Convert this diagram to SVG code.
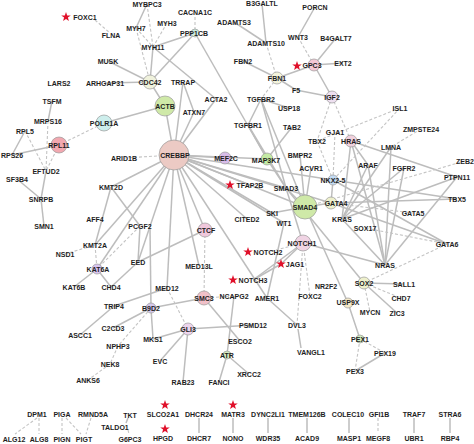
<svg xmlns="http://www.w3.org/2000/svg" xmlns:xlink="http://www.w3.org/1999/xlink" width="474" height="444" viewBox="0 0 474 444">
<style>
.s{stroke:#bdbdbd;stroke-width:1.5;fill:none}
.d{stroke:#c4c4c4;stroke-width:1.1;stroke-dasharray:3 2;fill:none}
.t{font-family:"Liberation Sans",Arial,sans-serif;font-size:7px;font-weight:bold;fill:#1e1e1e;text-anchor:middle}
.c{stroke:#9a9a9a;stroke-width:0.7}
.st{fill:#e0102a}
</style>
<defs>
<path id="star" d="M0,-5 L1.18,-1.62 L4.76,-1.55 L1.9,0.62 L2.94,4.05 L0,2 L-2.94,4.05 L-1.9,0.62 L-4.76,-1.55 L-1.18,-1.62Z"/>
</defs>
<rect width="474" height="444" fill="#fff"/>
<g id="connectors">
<line class="s" x1="147" y1="4" x2="136" y2="28"/>
<line class="s" x1="153" y1="47" x2="150" y2="82"/>
<line class="s" x1="195" y1="33" x2="150" y2="82"/>
<line class="s" x1="195" y1="33" x2="153" y2="47"/>
<line class="s" x1="195" y1="33" x2="267" y2="159"/>
<line class="s" x1="108" y1="61" x2="150" y2="82"/>
<line class="s" x1="105" y1="83" x2="150" y2="82"/>
<line class="s" x1="150" y1="82" x2="165" y2="106"/>
<line class="s" x1="153" y1="47" x2="216" y2="99"/>
<line class="s" x1="262" y1="4" x2="266" y2="43"/>
<line class="s" x1="234" y1="22" x2="266" y2="43"/>
<line class="s" x1="243" y1="61" x2="277" y2="78"/>
<line class="s" x1="277" y1="78" x2="296" y2="90"/>
<line class="s" x1="277" y1="78" x2="314" y2="65"/>
<line class="s" x1="298" y1="37" x2="315" y2="7"/>
<line class="s" x1="314" y1="65" x2="336" y2="38"/>
<line class="s" x1="314" y1="65" x2="343" y2="63"/>
<line class="s" x1="314" y1="65" x2="332" y2="97"/>
<line class="s" x1="296" y1="90" x2="332" y2="97"/>
<line class="s" x1="261" y1="99" x2="248" y2="125"/>
<line class="s" x1="261" y1="99" x2="286" y2="188"/>
<line class="s" x1="261" y1="99" x2="305" y2="207"/>
<line class="s" x1="261" y1="99" x2="289" y2="108"/>
<line class="s" x1="183" y1="82" x2="174" y2="155"/>
<line class="s" x1="183" y1="82" x2="194" y2="112"/>
<line class="s" x1="194" y1="112" x2="174" y2="155"/>
<line class="s" x1="165" y1="106" x2="174" y2="155"/>
<line class="s" x1="216" y1="99" x2="174" y2="155"/>
<line class="s" x1="104" y1="123" x2="165" y2="106"/>
<line class="s" x1="52" y1="101" x2="48" y2="121"/>
<line class="s" x1="25" y1="131" x2="12" y2="155"/>
<line class="s" x1="12" y1="155" x2="59" y2="145"/>
<line class="s" x1="46" y1="171" x2="41" y2="199"/>
<line class="s" x1="17" y1="179" x2="41" y2="199"/>
<line class="s" x1="41" y1="199" x2="44" y2="226"/>
<line class="s" x1="248" y1="125" x2="267" y2="159"/>
<line class="s" x1="248" y1="125" x2="286" y2="188"/>
<line class="s" x1="292" y1="127" x2="267" y2="159"/>
<line class="s" x1="300" y1="155" x2="305" y2="207"/>
<line class="s" x1="311" y1="168" x2="305" y2="207"/>
<line class="s" x1="267" y1="159" x2="286" y2="188"/>
<line class="s" x1="174" y1="155" x2="225" y2="158"/>
<line class="s" x1="174" y1="155" x2="267" y2="159"/>
<line class="s" x1="174" y1="155" x2="286" y2="188"/>
<line class="s" x1="174" y1="155" x2="305" y2="207"/>
<line class="s" x1="174" y1="155" x2="250" y2="185"/>
<line class="s" x1="174" y1="155" x2="247" y2="219"/>
<line class="s" x1="174" y1="155" x2="331" y2="203"/>
<line class="s" x1="174" y1="155" x2="333" y2="180"/>
<line class="s" x1="174" y1="155" x2="272" y2="213"/>
<line class="s" x1="174" y1="155" x2="205" y2="230"/>
<line class="s" x1="174" y1="155" x2="167" y2="288"/>
<line class="s" x1="174" y1="155" x2="199" y2="266"/>
<line class="s" x1="174" y1="155" x2="111" y2="187"/>
<line class="s" x1="174" y1="155" x2="95" y2="245"/>
<line class="s" x1="174" y1="155" x2="97" y2="269"/>
<line class="s" x1="174" y1="155" x2="138" y2="262"/>
<line class="s" x1="174" y1="155" x2="284" y2="223"/>
<line class="s" x1="174" y1="155" x2="267" y2="298"/>
<line class="s" x1="305" y1="207" x2="272" y2="213"/>
<line class="s" x1="305" y1="207" x2="331" y2="203"/>
<line class="s" x1="286" y1="188" x2="305" y2="207"/>
<line class="s" x1="305" y1="207" x2="348" y2="303"/>
<line class="s" x1="348" y1="303" x2="360" y2="339"/>
<line class="s" x1="351" y1="141" x2="368" y2="165"/>
<line class="s" x1="351" y1="141" x2="342" y2="219"/>
<line class="s" x1="351" y1="141" x2="385" y2="265"/>
<line class="s" x1="351" y1="141" x2="457" y2="177"/>
<line class="s" x1="391" y1="147" x2="342" y2="219"/>
<line class="s" x1="391" y1="147" x2="385" y2="265"/>
<line class="s" x1="368" y1="165" x2="385" y2="265"/>
<line class="s" x1="368" y1="165" x2="342" y2="219"/>
<line class="s" x1="404" y1="168" x2="385" y2="265"/>
<line class="s" x1="404" y1="168" x2="342" y2="219"/>
<line class="s" x1="457" y1="177" x2="342" y2="219"/>
<line class="s" x1="457" y1="177" x2="385" y2="265"/>
<line class="s" x1="333" y1="180" x2="457" y2="199"/>
<line class="s" x1="333" y1="180" x2="331" y2="203"/>
<line class="s" x1="333" y1="180" x2="447" y2="244"/>
<line class="s" x1="331" y1="203" x2="457" y2="199"/>
<line class="s" x1="331" y1="203" x2="447" y2="244"/>
<line class="s" x1="342" y1="219" x2="385" y2="265"/>
<line class="s" x1="303" y1="243" x2="281" y2="264"/>
<line class="s" x1="303" y1="243" x2="253" y2="280"/>
<line class="s" x1="281" y1="264" x2="253" y2="280"/>
<line class="s" x1="303" y1="243" x2="286" y2="188"/>
<line class="s" x1="303" y1="243" x2="385" y2="265"/>
<line class="s" x1="364" y1="283" x2="404" y2="284"/>
<line class="s" x1="364" y1="283" x2="397" y2="313"/>
<line class="s" x1="286" y1="188" x2="364" y2="283"/>
<line class="s" x1="284" y1="223" x2="267" y2="298"/>
<line class="s" x1="267" y1="298" x2="297" y2="325"/>
<line class="s" x1="298" y1="329" x2="301" y2="348"/>
<line class="s" x1="253" y1="325" x2="188" y2="329"/>
<line class="s" x1="204" y1="298" x2="240" y2="341"/>
<line class="s" x1="204" y1="298" x2="151" y2="308"/>
<line class="s" x1="205" y1="230" x2="138" y2="262"/>
<line class="s" x1="188" y1="329" x2="153" y2="339"/>
<line class="s" x1="188" y1="329" x2="160" y2="361"/>
<line class="s" x1="188" y1="329" x2="183" y2="382"/>
<line class="s" x1="151" y1="308" x2="153" y2="339"/>
<line class="s" x1="151" y1="308" x2="113" y2="328"/>
<line class="s" x1="114" y1="306" x2="80" y2="335"/>
<line class="s" x1="114" y1="306" x2="167" y2="288"/>
<line class="s" x1="227" y1="355" x2="219" y2="382"/>
<line class="s" x1="227" y1="355" x2="249" y2="374"/>
<line class="s" x1="227" y1="355" x2="234" y2="296"/>
<line class="s" x1="355" y1="371" x2="385" y2="353"/>
<line class="s" x1="111" y1="187" x2="95" y2="245"/>
<line class="s" x1="111" y1="187" x2="140" y2="226"/>
<line class="s" x1="140" y1="226" x2="138" y2="262"/>
<line class="s" x1="138" y1="262" x2="111" y2="287"/>
<line class="s" x1="97" y1="269" x2="74" y2="287"/>
<line class="s" x1="97" y1="269" x2="111" y2="287"/>
<line class="s" x1="150" y1="228" x2="151" y2="308"/>
<line class="d" x1="95" y1="20" x2="110" y2="33"/>
<line class="d" x1="147" y1="4" x2="153" y2="47"/>
<line class="d" x1="136" y1="28" x2="153" y2="47"/>
<line class="d" x1="167" y1="23" x2="153" y2="47"/>
<line class="d" x1="136" y1="28" x2="150" y2="82"/>
<line class="d" x1="195" y1="12" x2="195" y2="33"/>
<line class="d" x1="266" y1="43" x2="277" y2="78"/>
<line class="d" x1="298" y1="37" x2="314" y2="65"/>
<line class="d" x1="277" y1="78" x2="261" y2="99"/>
<line class="d" x1="332" y1="97" x2="317" y2="141"/>
<line class="d" x1="332" y1="97" x2="351" y2="141"/>
<line class="d" x1="400" y1="108" x2="317" y2="141"/>
<line class="d" x1="400" y1="108" x2="333" y2="180"/>
<line class="d" x1="421" y1="129" x2="391" y2="147"/>
<line class="d" x1="465" y1="161" x2="305" y2="207"/>
<line class="d" x1="335" y1="132" x2="333" y2="180"/>
<line class="d" x1="317" y1="141" x2="333" y2="180"/>
<line class="d" x1="25" y1="131" x2="46" y2="171"/>
<line class="d" x1="48" y1="121" x2="46" y2="171"/>
<line class="d" x1="59" y1="145" x2="46" y2="171"/>
<line class="d" x1="59" y1="145" x2="104" y2="123"/>
<line class="d" x1="124" y1="158" x2="174" y2="155"/>
<line class="d" x1="95" y1="245" x2="97" y2="269"/>
<line class="d" x1="65" y1="254" x2="95" y2="245"/>
<line class="d" x1="140" y1="226" x2="97" y2="269"/>
<line class="d" x1="205" y1="230" x2="204" y2="298"/>
<line class="d" x1="167" y1="288" x2="188" y2="329"/>
<line class="d" x1="447" y1="244" x2="364" y2="283"/>
<line class="d" x1="447" y1="244" x2="365" y2="228"/>
<line class="d" x1="364" y1="283" x2="401" y2="298"/>
<line class="d" x1="364" y1="283" x2="370" y2="312"/>
<line class="d" x1="303" y1="243" x2="297" y2="325"/>
<line class="d" x1="303" y1="243" x2="310" y2="296"/>
<line class="d" x1="303" y1="243" x2="268" y2="252"/>
<line class="d" x1="118" y1="346" x2="110" y2="364"/>
<line class="d" x1="110" y1="364" x2="88" y2="380"/>
<line class="d" x1="151" y1="308" x2="118" y2="346"/>
<line class="d" x1="360" y1="339" x2="385" y2="353"/>
<line class="d" x1="360" y1="339" x2="355" y2="371"/>
<line class="d" x1="234" y1="296" x2="204" y2="298"/>
<line class="d" x1="413" y1="213" x2="331" y2="203"/>
<line class="d" x1="37" y1="418" x2="15" y2="434"/>
<line class="d" x1="39" y1="418" x2="39" y2="434"/>
<line class="d" x1="62" y1="418" x2="62" y2="434"/>
<line class="d" x1="66" y1="418" x2="81" y2="434"/>
<line class="d" x1="91" y1="418" x2="86" y2="434"/>
<line class="s" x1="128" y1="418" x2="126" y2="423"/>
<line class="d" x1="128" y1="430" x2="129" y2="434"/>
<line class="s" x1="199" y1="418" x2="199" y2="433"/>
<line class="s" x1="233" y1="418" x2="233" y2="433"/>
<line class="s" x1="268" y1="418" x2="268" y2="433"/>
<line class="s" x1="307" y1="418" x2="307" y2="433"/>
<line class="s" x1="349" y1="418" x2="349" y2="433"/>
<line class="d" x1="378" y1="418" x2="378" y2="433"/>
<line class="s" x1="414" y1="418" x2="414" y2="433"/>
<line class="s" x1="450" y1="418" x2="450" y2="433"/>
</g>
<g id="n-FOXC1"><use href="#star" class="st" x="66" y="17"/><text class="t" x="85" y="19.5">FOXC1</text></g>
<g id="n-MYBPC3"><text class="t" x="147" y="6.5">MYBPC3</text></g>
<g id="n-CACNA1C"><text class="t" x="195" y="14.5">CACNA1C</text></g>
<g id="n-B3GALTL"><text class="t" x="262" y="6">B3GALTL</text></g>
<g id="n-PORCN"><text class="t" x="315" y="9.5">PORCN</text></g>
<g id="n-MYH7"><text class="t" x="136" y="30.5">MYH7</text></g>
<g id="n-MYH3"><text class="t" x="167" y="25.5">MYH3</text></g>
<g id="n-ADAMTS3"><text class="t" x="234" y="24.5">ADAMTS3</text></g>
<g id="n-FLNA"><text class="t" x="111" y="37.5">FLNA</text></g>
<g id="n-PPP1CB"><circle class="c" cx="195" cy="33" r="4" fill="#cdeee0"/><text class="t" x="194" y="35.5">PPP1CB</text></g>
<g id="n-WNT3"><text class="t" x="298" y="39.5">WNT3</text></g>
<g id="n-B4GALT7"><text class="t" x="336" y="40.5">B4GALT7</text></g>
<g id="n-ADAMTS10"><text class="t" x="266" y="45.5">ADAMTS10</text></g>
<g id="n-MYH11"><text class="t" x="153" y="49.5">MYH11</text></g>
<g id="n-EXT2"><text class="t" x="343" y="65.5">EXT2</text></g>
<g id="n-MUSK"><text class="t" x="108" y="63.5">MUSK</text></g>
<g id="n-FBN2"><text class="t" x="243" y="63.5">FBN2</text></g>
<g id="n-GPC3"><circle class="c" cx="314" cy="65" r="6" fill="#f4c8d4"/><use href="#star" class="st" x="297" y="66"/><text class="t" x="312" y="67.5">GPC3</text></g>
<g id="n-FBN1"><circle class="c" cx="277" cy="78" r="6" fill="#f4f4dc"/><text class="t" x="277" y="80.5">FBN1</text></g>
<g id="n-F5"><text class="t" x="296" y="92.5">F5</text></g>
<g id="n-ARHGAP31"><text class="t" x="105" y="85.5">ARHGAP31</text></g>
<g id="n-LARS2"><text class="t" x="59" y="85.5">LARS2</text></g>
<g id="n-CDC42"><circle class="c" cx="150" cy="82" r="7" fill="#f0f2dc"/><text class="t" x="150" y="84.5">CDC42</text></g>
<g id="n-TRRAP"><text class="t" x="183" y="84.5">TRRAP</text></g>
<g id="n-IGF2"><circle class="c" cx="332" cy="97" r="6" fill="#eee0f0"/><text class="t" x="332" y="99.5">IGF2</text></g>
<g id="n-TSFM"><text class="t" x="52" y="103.5">TSFM</text></g>
<g id="n-ACTA2"><text class="t" x="216" y="101.5">ACTA2</text></g>
<g id="n-TGFBR2"><text class="t" x="261" y="101.5">TGFBR2</text></g>
<g id="n-ACTB"><circle class="c" cx="165" cy="106" r="10" fill="#cfe9a8"/><text class="t" x="165" y="108.5">ACTB</text></g>
<g id="n-USP18"><text class="t" x="289" y="110.5">USP18</text></g>
<g id="n-ATXN7"><text class="t" x="194" y="114.5">ATXN7</text></g>
<g id="n-ISL1"><text class="t" x="400" y="110.5">ISL1</text></g>
<g id="n-MRPS16"><text class="t" x="48" y="123.5">MRPS16</text></g>
<g id="n-POLR1A"><circle class="c" cx="104" cy="123" r="8" fill="#cdeeec"/><text class="t" x="104" y="125.5">POLR1A</text></g>
<g id="n-RPL5"><text class="t" x="25" y="133.5">RPL5</text></g>
<g id="n-RPL11"><circle class="c" cx="59" cy="145" r="8" fill="#f2a8b0"/><text class="t" x="59" y="147.5">RPL11</text></g>
<g id="n-TGFBR1"><text class="t" x="248" y="127.5">TGFBR1</text></g>
<g id="n-TAB2"><text class="t" x="292" y="129.5">TAB2</text></g>
<g id="n-GJA1"><text class="t" x="335" y="134.5">GJA1</text></g>
<g id="n-TBX2"><text class="t" x="317" y="143.5">TBX2</text></g>
<g id="n-HRAS"><circle class="c" cx="351" cy="141" r="6" fill="#f0d0dc"/><text class="t" x="351" y="143.5">HRAS</text></g>
<g id="n-ZMPSTE24"><text class="t" x="421" y="131.5">ZMPSTE24</text></g>
<g id="n-LMNA"><text class="t" x="391" y="149.5">LMNA</text></g>
<g id="n-RPS26"><text class="t" x="12" y="157.5">RPS26</text></g>
<g id="n-ARID1B"><text class="t" x="124" y="160.5">ARID1B</text></g>
<g id="n-CREBBP"><circle class="c" cx="174" cy="155" r="15" fill="#eccac4"/><text class="t" x="175" y="157.5">CREBBP</text></g>
<g id="n-MEF2C"><circle class="c" cx="225" cy="158" r="6" fill="#d8bce8"/><text class="t" x="226" y="160.5">MEF2C</text></g>
<g id="n-MAP3K7"><circle class="c" cx="267" cy="159" r="6" fill="#c4eaa4"/><text class="t" x="266" y="162.5">MAP3K7</text></g>
<g id="n-BMPR2"><text class="t" x="300" y="157.5">BMPR2</text></g>
<g id="n-EFTUD2"><text class="t" x="46" y="173.5">EFTUD2</text></g>
<g id="n-ZEB2"><text class="t" x="465" y="163.5">ZEB2</text></g>
<g id="n-SF3B4"><text class="t" x="17" y="181.5">SF3B4</text></g>
<g id="n-ARAF"><text class="t" x="368" y="167.5">ARAF</text></g>
<g id="n-ACVR1"><text class="t" x="311" y="170.5">ACVR1</text></g>
<g id="n-FGFR2"><text class="t" x="404" y="170.5">FGFR2</text></g>
<g id="n-PTPN11"><text class="t" x="457" y="179.5">PTPN11</text></g>
<g id="n-NKX2-5"><circle class="c" cx="333" cy="180" r="5" fill="#c4dcf4"/><text class="t" x="333" y="182.5">NKX2-5</text></g>
<g id="n-KMT2D"><text class="t" x="111" y="189.5">KMT2D</text></g>
<g id="n-TFAP2B"><use href="#star" class="st" x="230" y="185"/><text class="t" x="250" y="187.5">TFAP2B</text></g>
<g id="n-SMAD3"><text class="t" x="286" y="190.5">SMAD3</text></g>
<g id="n-SNRPB"><text class="t" x="41" y="201.5">SNRPB</text></g>
<g id="n-TBX5"><text class="t" x="457" y="201.5">TBX5</text></g>
<g id="n-SMAD4"><circle class="c" cx="305" cy="207" r="12" fill="#cfe9a8"/><text class="t" x="305" y="209.5">SMAD4</text></g>
<g id="n-GATA4"><circle class="c" cx="331" cy="203" r="6" fill="#eef0cc"/><text class="t" x="336" y="205.5">GATA4</text></g>
<g id="n-GATA5"><text class="t" x="413" y="215.5">GATA5</text></g>
<g id="n-SKI"><text class="t" x="272" y="215.5">SKI</text></g>
<g id="n-AFF4"><text class="t" x="95" y="221.5">AFF4</text></g>
<g id="n-CITED2"><text class="t" x="247" y="221.5">CITED2</text></g>
<g id="n-KRAS"><text class="t" x="342" y="221.5">KRAS</text></g>
<g id="n-WT1"><text class="t" x="284" y="225.5">WT1</text></g>
<g id="n-SMN1"><text class="t" x="44" y="228.5">SMN1</text></g>
<g id="n-PCGF2"><text class="t" x="140" y="228.5">PCGF2</text></g>
<g id="n-SOX17"><text class="t" x="365" y="230.5">SOX17</text></g>
<g id="n-CTCF"><circle class="c" cx="205" cy="230" r="7" fill="#f0c8dc"/><text class="t" x="206" y="232.5">CTCF</text></g>
<g id="n-NOTCH1"><circle class="c" cx="303" cy="243" r="8" fill="#f0d4e4"/><text class="t" x="302" y="245.5">NOTCH1</text></g>
<g id="n-GATA6"><text class="t" x="447" y="246.5">GATA6</text></g>
<g id="n-KMT2A"><text class="t" x="95" y="247.5">KMT2A</text></g>
<g id="n-NOTCH2"><use href="#star" class="st" x="248" y="252"/><text class="t" x="268" y="254.5">NOTCH2</text></g>
<g id="n-NSD1"><text class="t" x="65" y="256.5">NSD1</text></g>
<g id="n-EED"><text class="t" x="138" y="264.5">EED</text></g>
<g id="n-JAG1"><use href="#star" class="st" x="281" y="264"/><text class="t" x="295" y="266.5">JAG1</text></g>
<g id="n-NRAS"><text class="t" x="385" y="267.5">NRAS</text></g>
<g id="n-MED13L"><text class="t" x="199" y="268.5">MED13L</text></g>
<g id="n-KAT6A"><circle class="c" cx="97" cy="269" r="5" fill="#d8c4f0"/><text class="t" x="98" y="271.5">KAT6A</text></g>
<g id="n-NOTCH3"><use href="#star" class="st" x="233" y="280"/><text class="t" x="253" y="282.5">NOTCH3</text></g>
<g id="n-NR2F2"><text class="t" x="326" y="288.5">NR2F2</text></g>
<g id="n-SOX2"><circle class="c" cx="364" cy="283" r="6" fill="#eef0cc"/><text class="t" x="364" y="285.5">SOX2</text></g>
<g id="n-SALL1"><text class="t" x="404" y="286.5">SALL1</text></g>
<g id="n-KAT6B"><text class="t" x="74" y="289.5">KAT6B</text></g>
<g id="n-CHD4"><text class="t" x="111" y="289.5">CHD4</text></g>
<g id="n-MED12"><text class="t" x="167" y="290.5">MED12</text></g>
<g id="n-FOXC2"><text class="t" x="310" y="298.5">FOXC2</text></g>
<g id="n-NCAPG2"><text class="t" x="234" y="298.5">NCAPG2</text></g>
<g id="n-SMC3"><circle class="c" cx="204" cy="298" r="7" fill="#f0c0c8"/><text class="t" x="204" y="300.5">SMC3</text></g>
<g id="n-AMER1"><text class="t" x="267" y="300.5">AMER1</text></g>
<g id="n-CHD7"><text class="t" x="401" y="300.5">CHD7</text></g>
<g id="n-USP9X"><circle class="c" cx="348" cy="303" r="5" fill="#f4e8c8"/><text class="t" x="348" y="304.5">USP9X</text></g>
<g id="n-TRIP4"><text class="t" x="114" y="308.5">TRIP4</text></g>
<g id="n-B9D2"><circle class="c" cx="151" cy="308" r="5" fill="#d4c8ec"/><text class="t" x="151" y="310.5">B9D2</text></g>
<g id="n-MYCN"><text class="t" x="370" y="314.5">MYCN</text></g>
<g id="n-ZIC3"><text class="t" x="397" y="315.5">ZIC3</text></g>
<g id="n-PSMD12"><text class="t" x="253" y="327.5">PSMD12</text></g>
<g id="n-DVL3"><text class="t" x="297" y="327.5">DVL3</text></g>
<g id="n-C2CD3"><text class="t" x="113" y="330.5">C2CD3</text></g>
<g id="n-GLI3"><circle class="c" cx="188" cy="329" r="6" fill="#ecd4ec"/><text class="t" x="188" y="331.5">GLI3</text></g>
<g id="n-ASCC1"><text class="t" x="80" y="337.5">ASCC1</text></g>
<g id="n-MKS1"><text class="t" x="153" y="341.5">MKS1</text></g>
<g id="n-PEX1"><circle class="c" cx="360" cy="339" r="4" fill="#d4ecc0"/><text class="t" x="360" y="341.5">PEX1</text></g>
<g id="n-ESCO2"><text class="t" x="240" y="343.5">ESCO2</text></g>
<g id="n-NPHP3"><text class="t" x="118" y="348.5">NPHP3</text></g>
<g id="n-VANGL1"><text class="t" x="311" y="354.5">VANGL1</text></g>
<g id="n-PEX19"><text class="t" x="385" y="355.5">PEX19</text></g>
<g id="n-ATR"><circle class="c" cx="227" cy="355" r="4" fill="#d4ecc0"/><text class="t" x="227" y="357.5">ATR</text></g>
<g id="n-EVC"><text class="t" x="160" y="363.5">EVC</text></g>
<g id="n-NEK8"><text class="t" x="110" y="366.5">NEK8</text></g>
<g id="n-PEX3"><text class="t" x="355" y="373.5">PEX3</text></g>
<g id="n-XRCC2"><text class="t" x="249" y="376.5">XRCC2</text></g>
<g id="n-ANKS6"><text class="t" x="88" y="382.5">ANKS6</text></g>
<g id="n-RAB23"><text class="t" x="183" y="384.5">RAB23</text></g>
<g id="n-FANCI"><text class="t" x="219" y="384.5">FANCI</text></g>
<g id="n-DPM1"><text class="t" x="37" y="416.5">DPM1</text></g>
<g id="n-PIGA"><text class="t" x="62" y="416.5">PIGA</text></g>
<g id="n-RMND5A"><text class="t" x="93" y="416.5">RMND5A</text></g>
<g id="n-TKT"><text class="t" x="130" y="417.5">TKT</text></g>
<g id="n-TALDO1"><text class="t" x="115" y="429.5">TALDO1</text></g>
<g id="n-SLCO2A1"><use href="#star" class="st" x="165" y="405"/><text class="t" x="163" y="416.5">SLCO2A1</text></g>
<g id="n-DHCR24"><text class="t" x="199" y="416.5">DHCR24</text></g>
<g id="n-MATR3"><use href="#star" class="st" x="233" y="405"/><text class="t" x="233" y="416.5">MATR3</text></g>
<g id="n-DYNC2LI1"><text class="t" x="268" y="416.5">DYNC2LI1</text></g>
<g id="n-TMEM126B"><text class="t" x="307" y="416.5">TMEM126B</text></g>
<g id="n-COLEC10"><text class="t" x="348" y="416.5">COLEC10</text></g>
<g id="n-GFI1B"><text class="t" x="379" y="416.5">GFI1B</text></g>
<g id="n-TRAF7"><text class="t" x="414" y="416.5">TRAF7</text></g>
<g id="n-STRA6"><text class="t" x="450" y="416.5">STRA6</text></g>
<g id="n-ALG12"><text class="t" x="14" y="441.5">ALG12</text></g>
<g id="n-ALG8"><text class="t" x="39" y="441.5">ALG8</text></g>
<g id="n-PIGN"><text class="t" x="62" y="441.5">PIGN</text></g>
<g id="n-PIGT"><text class="t" x="84" y="441.5">PIGT</text></g>
<g id="n-G6PC3"><text class="t" x="130" y="441.5">G6PC3</text></g>
<g id="n-HPGD"><use href="#star" class="st" x="165" y="429"/><text class="t" x="163" y="440.5">HPGD</text></g>
<g id="n-DHCR7"><text class="t" x="199" y="440.5">DHCR7</text></g>
<g id="n-NONO"><text class="t" x="233" y="440.5">NONO</text></g>
<g id="n-WDR35"><text class="t" x="268" y="440.5">WDR35</text></g>
<g id="n-ACAD9"><text class="t" x="307" y="440.5">ACAD9</text></g>
<g id="n-MASP1"><text class="t" x="349" y="440.5">MASP1</text></g>
<g id="n-MEGF8"><text class="t" x="378" y="440.5">MEGF8</text></g>
<g id="n-UBR1"><text class="t" x="414" y="440.5">UBR1</text></g>
<g id="n-RBP4"><text class="t" x="450" y="440.5">RBP4</text></g>
</svg>
